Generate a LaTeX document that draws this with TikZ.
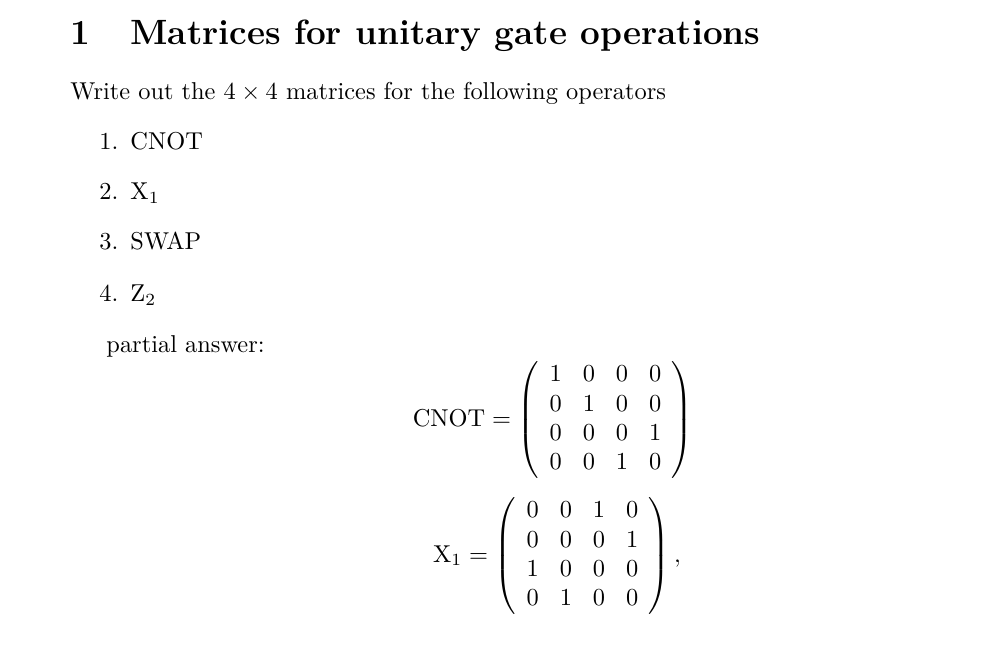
\documentclass[tikz,border=0pt]{standalone}
\usepackage{amsmath}
\begin{document}
\begin{tikzpicture}[x=0.41pt,y=-0.41pt,
  txt/.style={anchor=base west,inner sep=0pt},
  eq/.style={anchor=center,inner sep=0pt}]
\useasboundingbox (0,0) rectangle (991,647);
\setlength{\arraycolsep}{4.3pt}
\node[txt,font=\Large\bfseries] (h1) at (70,45) {1};
\node[txt,font=\Large\bfseries] (h2) at (130,45) {Matrices for unitary gate operations};
\node[txt] (intro) at (70,100) {Write out the $4\times4$ matrices for the following operators};
\node[txt] (n1) at (99,150) {1.};
\node[txt] (i1) at (130,150) {CNOT};
\node[txt] (n2) at (99,200) {2.};
\node[txt] (i2) at (130,200) {X$_1$};
\node[txt] (n3) at (99,250) {3.};
\node[txt] (i3) at (130,250) {SWAP};
\node[txt] (n4) at (99,302) {4.};
\node[txt] (i4) at (130,302) {Z$_2$};
\node[txt] (pa) at (106,353) {partial answer:};
\node[eq] (m1) at (553,420) {$\mathrm{CNOT}=\left(\begin{array}{cccc}1&0&0&0\\0&1&0&0\\0&0&0&1\\0&0&1&0\end{array}\right)$};
\node[eq] (m2) at (557,556) {$\mathrm{X}_1=\left(\begin{array}{cccc}0&0&1&0\\0&0&0&1\\1&0&0&0\\0&1&0&0\end{array}\right),$};
\end{tikzpicture}
\end{document}
